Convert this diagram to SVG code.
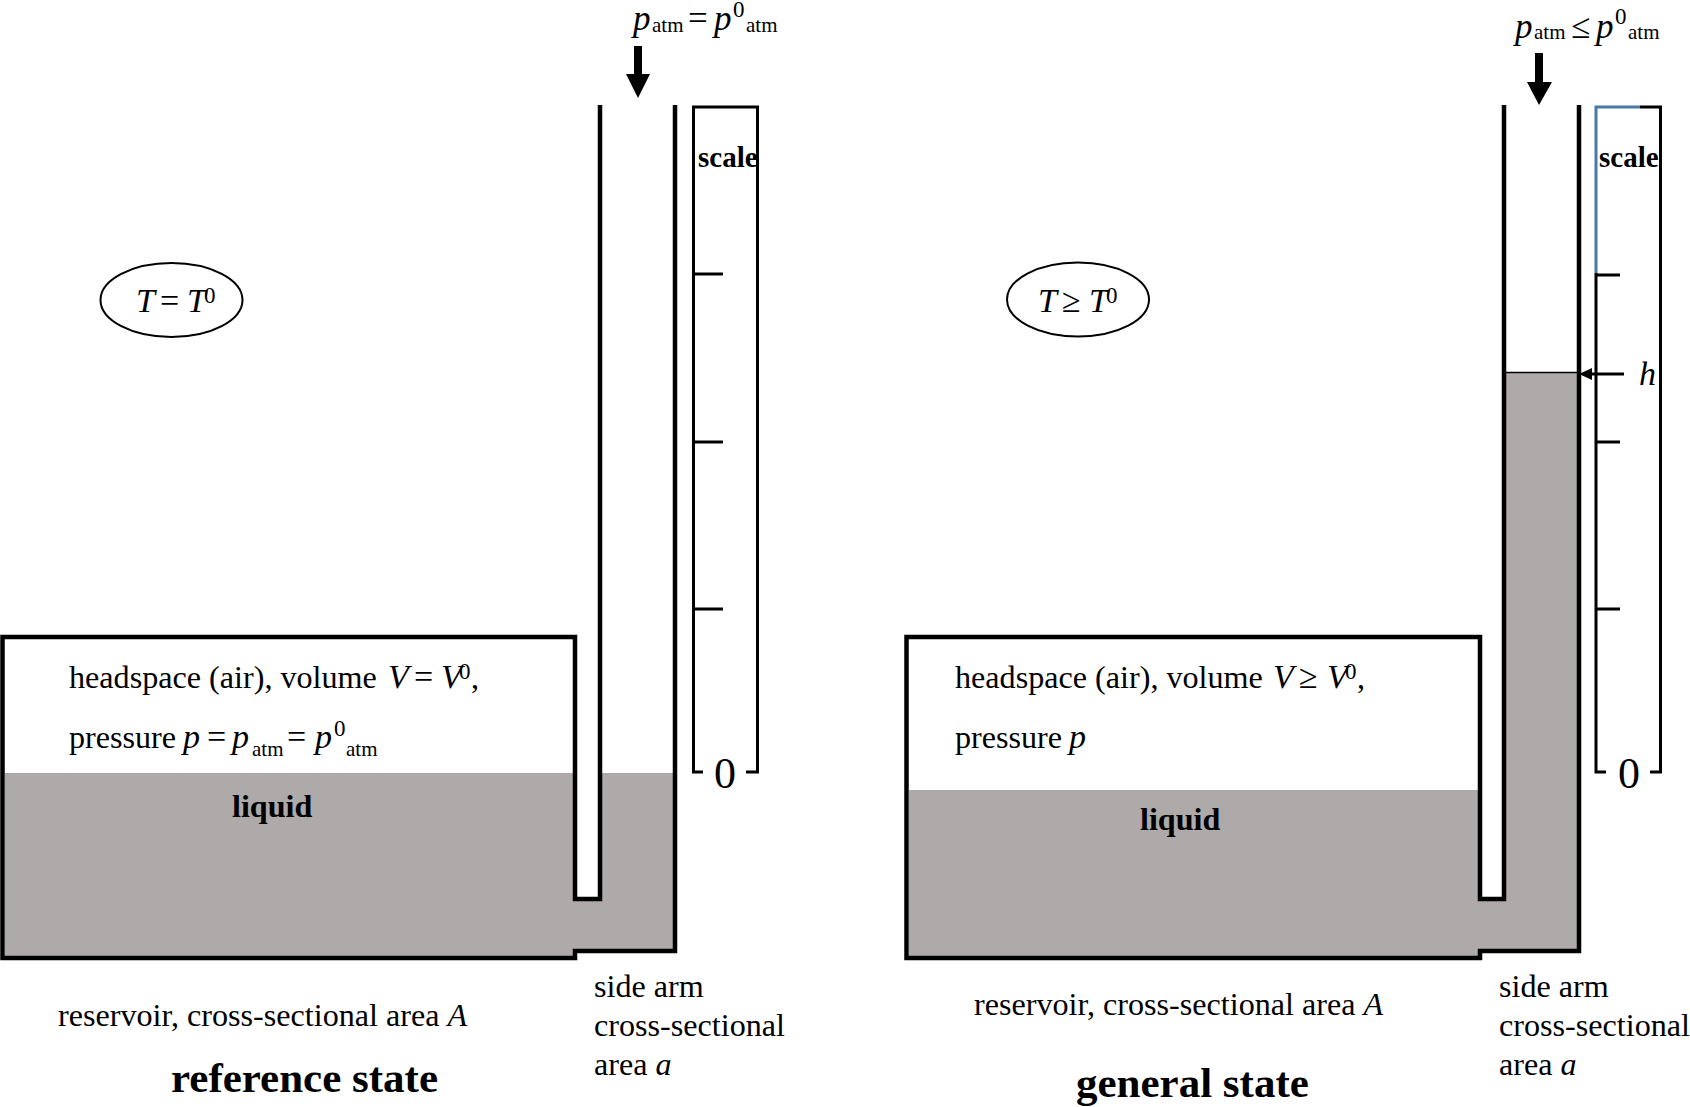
<svg xmlns="http://www.w3.org/2000/svg" width="1690" height="1107" viewBox="0 0 1690 1107">
<style>
text{font-family:"Liberation Serif","Times New Roman",serif;font-size:32.15px;fill:#000}
.i{font-style:italic}
.b{font-weight:bold}
.m{font-size:34px}
.p{font-size:35px}
.s{font-size:21px}
.o{font-size:23px}
.t{font-size:43px;font-weight:bold}
.z{font-size:44px}
.w{fill:none;stroke:#000;stroke-width:4.5}
.k{fill:none;stroke:#000;stroke-width:3}
.l{fill:#aeaaa9}
.e{fill:#fff;stroke:#000;stroke-width:2}
</style>
<rect width="1690" height="1107" fill="#fff"/>
<g id="reference-state">
<g id="ref-liquid"><path class="l" d="M5 773H575V901H600V773H675V951H575V956H5Z"/></g>
<g id="ref-vessel"><path class="w" d="M600 105V899H575V637H2.5V958H575V951H675V105"/></g>
<g id="ref-scale"><path class="k" d="M703 772H693.5V107H757.5V772H746M693.5 274H723M693.5 442H723M693.5 609H723"/>
<text x="698" y="167" class="b" style="font-size:29px">scale</text>
<text x="714" y="788" class="z">0</text></g>
<g id="ref-temperature"><ellipse class="e" cx="171.5" cy="300" rx="71" ry="37"/>
<text y="312"><tspan x="136" class="i m">T</tspan><tspan x="160" class="m">=</tspan><tspan x="187" class="i m">T</tspan><tspan x="204" y="303" class="o">0</tspan></text></g>
<g id="ref-pressure"><text y="30"><tspan x="633" class="i p">p</tspan><tspan x="652" y="32" class="s">atm</tspan><tspan x="688" y="30" class="p">=</tspan><tspan x="714" class="i p">p</tspan><tspan x="733" y="17" class="o">0</tspan><tspan x="746" y="32" class="s">atm</tspan></text>
<path d="M634 46H642V74H650L638 98L626 74H634Z"/></g>
<g id="ref-headspace"><text y="688"><tspan x="69">headspace (air), volume</tspan><tspan x="388" class="i m">V</tspan><tspan x="414" class="m">=</tspan><tspan x="441" class="i m">V</tspan><tspan x="459" y="679" class="o">0</tspan><tspan x="471" y="688">,</tspan></text>
<text y="748"><tspan x="69">pressure</tspan><tspan x="183" class="i m">p</tspan><tspan x="207" class="m">=</tspan><tspan x="232" class="i m">p</tspan><tspan x="252" y="756" class="s">atm</tspan><tspan x="287" y="748" class="m">=</tspan><tspan x="315" class="i m">p</tspan><tspan x="334" y="736" class="o">0</tspan><tspan x="346" y="756" class="s">atm</tspan></text>
<text x="232" y="817" class="b">liquid</text></g>
<g id="ref-labels"><text x="58" y="1026">reservoir, cross-sectional area <tspan class="i">A</tspan></text>
<text x="594" y="997">side arm</text><text x="594" y="1036">cross-sectional</text><text x="594" y="1075">area <tspan class="i">a</tspan></text>
<text x="171" y="1092" class="t">reference state</text></g>
</g>
<g id="general-state">
<g id="gen-liquid"><path class="l" d="M909 790H1478V901H1504V373H1577V949H1480V956H909Z"/></g>
<g id="gen-vessel"><path class="w" d="M1504 105V899H1480V637H906.5V958H1480V951H1579V105"/>
<path d="M1504 372.5H1579" stroke="#000" stroke-width="1.5"/></g>
<g id="gen-scale"><path class="k" d="M1606 772H1596V273M1640 107H1660.5V772H1650M1596 275H1620M1596 442H1620M1596 609H1620"/>
<path d="M1596 273V107H1640" fill="none" stroke="#4a7aa8" stroke-width="3"/>
<text x="1599" y="167" class="b" style="font-size:29px">scale</text>
<text x="1618" y="788" class="z">0</text></g>
<g id="gen-temperature"><ellipse class="e" cx="1078" cy="299.5" rx="71" ry="37"/>
<text y="312"><tspan x="1038" class="i m">T</tspan><tspan x="1062" class="m">≥</tspan><tspan x="1089" class="i m">T</tspan><tspan x="1106" y="303" class="o">0</tspan></text></g>
<g id="gen-pressure"><text y="38"><tspan x="1515" class="i p">p</tspan><tspan x="1534" y="39" class="s">atm</tspan><tspan x="1571" y="38" class="p">≤</tspan><tspan x="1596" class="i p">p</tspan><tspan x="1615" y="24" class="o">0</tspan><tspan x="1628" y="39" class="s">atm</tspan></text>
<path d="M1535 53H1543V82H1552L1539 105L1527 82H1535Z"/></g>
<g id="gen-headspace"><text y="688"><tspan x="955">headspace (air), volume</tspan><tspan x="1273" class="i m">V</tspan><tspan x="1299" class="m">≥</tspan><tspan x="1327" class="i m">V</tspan><tspan x="1345" y="679" class="o">0</tspan><tspan x="1357" y="688">,</tspan></text>
<text y="748"><tspan x="955">pressure</tspan><tspan x="1069" class="i m">p</tspan></text>
<text x="1140" y="830" class="b">liquid</text></g>
<g id="gen-labels"><text x="974" y="1015">reservoir, cross-sectional area <tspan class="i">A</tspan></text>
<text x="1499" y="997">side arm</text><text x="1499" y="1036">cross-sectional</text><text x="1499" y="1075">area <tspan class="i">a</tspan></text>
<text x="1076" y="1097" class="t">general state</text></g>
</g>
<g id="connectors"><path d="M1624 374H1588" stroke="#000" stroke-width="3"/><path d="M1579 374L1592 368V380Z"/>
<text x="1639" y="385" class="i" style="font-size:34px">h</text></g>
</svg>
